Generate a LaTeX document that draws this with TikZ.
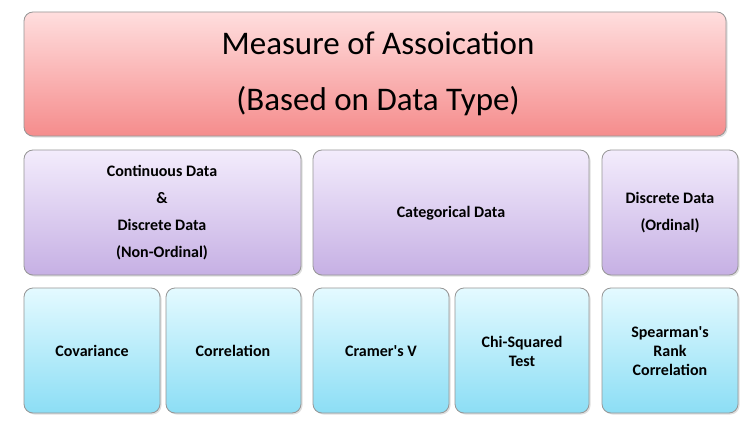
\documentclass[tikz,border=0pt]{standalone}
\usepackage{fontspec}
\setmainfont{Carlito}
\usetikzlibrary{shadows}
\definecolor{edge}{RGB}{150,150,150}
\tikzset{
 box/.style={draw=edge, line width=0.8pt, rounded corners=9pt, drop shadow={shadow xshift=1.5pt,shadow yshift=-1.5pt,opacity=0.25}},
 redbox/.style={box, top color={rgb,255:red,255;green,222;blue,222}, bottom color={rgb,255:red,245;green,140;blue,140}},
 purbox/.style={box, top color={rgb,255:red,243;green,236;blue,252}, bottom color={rgb,255:red,198;green,176;blue,228}},
 bluebox/.style={box, top color={rgb,255:red,228;green,250;blue,255}, bottom color={rgb,255:red,140;green,222;blue,245}},
 lbl/.style={font=\fontsize{16}{27}\selectfont\bfseries, align=center}
}
\begin{document}
\begin{tikzpicture}[x=1pt,y=-1pt]
\useasboundingbox (0,0) rectangle (749,425);
\fill[white] (0,0) rectangle (749,425);
\draw[redbox] (24,12) rectangle (726,136);
\node[font=\fontsize{33}{56}\selectfont, align=center] (t) at (378,74) {Measure of Assoication\\(Based on Data Type)};
\draw[purbox] (24,150) rectangle (301,275);
\draw[purbox] (313,150) rectangle (589,275);
\draw[purbox] (602,150) rectangle (738,275);
\node[lbl] (a) at (162,213) {Continuous Data\\\&\\Discrete Data\\(Non-Ordinal)};
\node[lbl] (b) at (451,213) {Categorical Data};
\node[lbl] (c) at (670,213) {Discrete Data\\(Ordinal)};
\draw[bluebox] (24,288) rectangle (160,413);
\draw[bluebox] (166,288) rectangle (301,413);
\draw[bluebox] (313,288) rectangle (449,413);
\draw[bluebox] (455,288) rectangle (589,413);
\draw[bluebox] (602,288) rectangle (738,413);
\tikzset{lbl/.append style={font=\fontsize{16}{19}\selectfont\bfseries}}
\node[lbl] (d) at (92,351) {Covariance};
\node[lbl] (e) at (233,351) {Correlation};
\node[lbl] (f) at (381,351) {Cramer\textquotesingle s V};
\node[lbl] (g) at (522,351) {Chi-Squared\\Test};
\node[lbl] (h) at (670,351) {Spearman\textquotesingle s\\Rank\\Correlation};
\end{tikzpicture}
\end{document}
